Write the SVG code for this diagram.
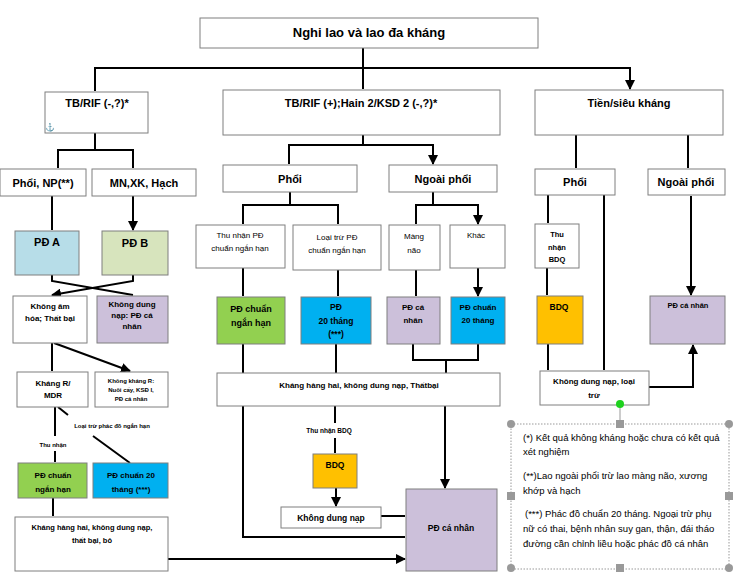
<svg xmlns="http://www.w3.org/2000/svg" width="746" height="573" viewBox="0 0 746 573">
<defs>
<marker id="ah" viewBox="0 0 10 10" refX="9" refY="5" markerWidth="5" markerHeight="5" orient="auto"><path d="M0,0L10,5L0,10z" fill="#000"/></marker>
<style>
.b{fill:#fff;stroke:#7f7f7f;stroke-width:1}
.g{fill:#92d050;stroke:#7f7f7f}
.bl{fill:#00b0f0;stroke:#7f7f7f}
.p{fill:#ccc0da;stroke:#7f7f7f}
.o{fill:#ffc000;stroke:#7f7f7f}
.la{fill:#b7dde8;stroke:#7f7f7f}
.lg{fill:#d7e4bd;stroke:#7f7f7f}
text{font-family:"Liberation Sans",Arial,sans-serif;font-weight:bold;text-anchor:middle;fill:#000}
.t13{font-size:13px}.t11{font-size:11px}.t10{font-size:10px}.t8{font-size:7px}
.c{fill:none;stroke:#000;stroke-width:2}
.a{marker-end:url(#ah)}
.n{font-weight:normal;text-anchor:start;font-size:9.5px}
</style>
</defs>
<rect width="746" height="573" fill="#fff"/>
<g id="connectors">
<path class="c" d="M363,48V68M95,68H630"/>
<path class="c a" d="M95,67V91M363,67V89M630,67V89"/>
<path class="c" d="M95,133V150M58,150H133"/>
<path class="c a" d="M58,149V168M133,149V168M52,196V230M133,196V230"/>
<path class="c a" d="M52,275V281L133,295M133,275V281L52,295"/>
<path class="c a" d="M52,343V371M54,343L130,371"/>
<path class="c" d="M55,407V436M58,407L68,415"/>
<path class="c a" d="M55,451V462M93,436L130,463M53,498V516M168,559H405"/>
<path class="c" d="M363,135V145M289,145H433"/>
<path class="c a" d="M289,144V164M433,144V164"/>
<path class="c" d="M290,192V205M243,205H338M433,192V205M416,205H478"/>
<path class="c a" d="M243,204V224M338,204V224M416,204V224M478,204V224"/>
<path class="c a" d="M243,268V296M338,270V296M416,270V296M478,268V296"/>
<path class="c" d="M243,344V373M336,344V373M413,344V360H478V344M446,360V373"/>
<path class="c a" d="M243,406V537H405M381,516H405M445,406V488"/>
<path class="c" d="M335,406V423"/>
<path class="c a" d="M335,438V453M336,488V506"/>
<path class="c a" d="M576,135V168M688,135V168M548,195V223M547,268V295M548,344V370M604,195V370M691,196V295"/>
<path class="c a" d="M649,387H693V345"/>
</g>
<g id="n-root"><rect class="b" x="200" y="18" width="338" height="30"/><text class="t13" x="369" y="37">Nghi lao và lao đa kháng</text></g>
<g id="n-rifneg"><rect class="b" x="45" y="92" width="103" height="41"/><text class="t11" x="97" y="107">TB/RIF (-,?)*</text><text x="50" y="130" style="font-size:8px;fill:#4472c4;font-weight:normal">⚓</text></g>
<g id="n-rifpos"><rect class="b" x="223" y="90" width="277" height="45"/><text class="t11" x="361" y="107">TB/RIF (+);Hain 2/KSD 2 (-,?)*</text></g>
<g id="n-tien"><rect class="b" x="535" y="90" width="188" height="45"/><text class="t11" x="629" y="107">Tiền/siêu kháng</text></g>
<g id="n-phoinp"><rect class="b" x="0" y="169" width="86" height="27"/><text class="t11" x="43" y="187">Phổi, NP(**)</text></g>
<g id="n-mnxk"><rect class="b" x="92" y="169" width="104" height="27"/><text class="t11" x="144" y="187">MN,XK, Hạch</text></g>
<g id="n-pda"><rect class="la" x="15" y="231" width="64" height="44"/><text class="t11" x="47" y="246">PĐ A</text></g>
<g id="n-pdb"><rect class="lg" x="102" y="231" width="66" height="44"/><text class="t11" x="135" y="247">PĐ B</text></g>
<g id="n-kam"><rect class="b" x="13" y="296" width="74" height="47"/><text class="t8" x="50" y="309" style="font-size:8px">Không âm</text><text x="50" y="321" style="font-size:8px">hóa; Thất bại</text></g>
<g id="n-kdn1"><rect class="p" x="97" y="296" width="71" height="47"/><text x="132" y="307" style="font-size:8px">Không dung</text><text x="132" y="318" style="font-size:8px">nạp: PĐ cá</text><text x="132" y="329" style="font-size:8px">nhân</text></g>
<g id="n-khangr"><rect class="b" x="17" y="372" width="71" height="35"/><text x="53" y="386" style="font-size:8px">Kháng R/</text><text x="53" y="398" style="font-size:8px">MDR</text></g>
<g id="n-kkr"><rect class="b" x="95" y="372" width="73" height="35"/><text x="131" y="383" style="font-size:6px">Không kháng R:</text><text x="131" y="392" style="font-size:6px">Nuôi cấy, KSĐ I,</text><text x="131" y="401" style="font-size:6px">PĐ cá nhân</text></g>
<text x="112" y="428" style="font-size:6px">Loại trừ phác đồ ngắn hạn</text>
<text x="53" y="447" style="font-size:6px">Thu nhận</text>
<g id="n-pdnh1"><rect class="g" x="18" y="463" width="69" height="35"/><text x="53" y="478" style="font-size:8px">PĐ chuẩn</text><text x="53" y="492" style="font-size:8px">ngắn hạn</text></g>
<g id="n-pd20a"><rect class="bl" x="93" y="463" width="75" height="35"/><text x="131" y="478" style="font-size:8px">PĐ chuẩn 20</text><text x="131" y="492" style="font-size:8px">tháng (***)</text></g>
<g id="n-khh1"><rect class="b" x="15" y="517" width="153" height="54"/><text x="92" y="530" style="font-size:7.5px">Kháng hàng hai, không dung nạp,</text><text x="92" y="543" style="font-size:7.5px">thất bại, bỏ</text></g>
<g id="n-phoi2"><rect class="b" x="223" y="165" width="134" height="27"/><text class="t11" x="290" y="183">Phổi</text></g>
<g id="n-ngoai2"><rect class="b" x="389" y="165" width="108" height="27"/><text class="t11" x="443" y="183">Ngoài phổi</text></g>
<g id="n-thunhan"><rect class="b" x="196" y="225" width="89" height="43"/><text x="240" y="238" style="font-size:8px;font-weight:normal">Thu nhận PĐ</text><text x="240" y="251" style="font-size:8px;font-weight:normal">chuẩn ngắn hạn</text></g>
<g id="n-loaitru"><rect class="b" x="293" y="225" width="88" height="45"/><text x="337" y="240" style="font-size:8px;font-weight:normal">Loại trừ PĐ</text><text x="337" y="253" style="font-size:8px;font-weight:normal">chuẩn ngắn hạn</text></g>
<g id="n-mangnao"><rect class="b" x="389" y="225" width="51" height="45"/><text x="414" y="239" style="font-size:8px;font-weight:normal">Màng</text><text x="414" y="253" style="font-size:8px;font-weight:normal">não</text></g>
<g id="n-khac"><rect class="b" x="450" y="225" width="55" height="43"/><text x="476" y="238" style="font-size:8px;font-weight:normal">Khác</text></g>
<g id="n-pdnh2"><rect class="g" x="217" y="297" width="68" height="47"/><text x="251" y="312" style="font-size:9px">PĐ chuẩn</text><text x="251" y="326" style="font-size:9px">ngắn hạn</text></g>
<g id="n-pd20b"><rect class="bl" x="301" y="297" width="70" height="47"/><text x="336" y="310" style="font-size:8.5px">PĐ</text><text x="336" y="324" style="font-size:8.5px">20 tháng</text><text x="336" y="337" style="font-size:8.5px">(***)</text></g>
<g id="n-pdcn1"><rect class="p" x="387" y="297" width="53" height="47"/><text x="413" y="310" style="font-size:8px">PĐ cá</text><text x="413" y="323" style="font-size:8px">nhân</text></g>
<g id="n-pd20c"><rect class="bl" x="451" y="297" width="54" height="47"/><text x="478" y="310" style="font-size:8px">PĐ chuẩn</text><text x="478" y="323" style="font-size:8px">20 tháng</text></g>
<g id="n-khh2"><rect class="b" x="217" y="373" width="283" height="33"/><text x="359" y="388" style="font-size:8px">Kháng hàng hai, không dung nạp, Thấtbại</text></g>
<text x="329" y="433" style="font-size:6.5px">Thu nhận BDQ</text>
<g id="n-bdq1"><rect class="o" x="313" y="454" width="44" height="34"/><text x="335" y="468" style="font-size:8.5px">BDQ</text></g>
<g id="n-kdn2"><rect class="b" x="281" y="507" width="100" height="21"/><text x="331" y="521" style="font-size:8.5px">Không dung nạp</text></g>
<g id="n-pdcn2"><rect class="p" x="406" y="489" width="91" height="82"/><text x="451" y="531" style="font-size:8.5px">PĐ cá nhân</text></g>
<g id="n-phoi3"><rect class="b" x="535" y="169" width="80" height="26"/><text class="t11" x="575" y="186">Phổi</text></g>
<g id="n-ngoai3"><rect class="b" x="648" y="169" width="77" height="26"/><text class="t11" x="686" y="186">Ngoài phổi</text></g>
<g id="n-tnbdq"><rect class="b" x="535" y="224" width="44" height="44"/><text x="557" y="237" style="font-size:7.5px">Thu</text><text x="557" y="250" style="font-size:7.5px">nhận</text><text x="557" y="262" style="font-size:7.5px">BDQ</text></g>
<g id="n-bdq2"><rect class="o" x="537" y="296" width="46" height="48"/><text x="559" y="310" style="font-size:8.5px">BDQ</text></g>
<g id="n-pdcn3"><rect class="p" x="650" y="296" width="75" height="48"/><text x="688" y="308" style="font-size:7.5px">PĐ cá nhân</text></g>
<g id="n-kdn3"><rect class="b" x="540" y="371" width="109" height="34"/><text x="594" y="384" style="font-size:8px">Không dung nạp, loại</text><text x="594" y="398" style="font-size:8px">trừ</text></g>
<g id="notes">
<line x1="620" y1="404" x2="620" y2="424" stroke="#999"/>
<circle cx="620" cy="404" r="4" fill="#1ed21e"/>
<rect x="511" y="424" width="218" height="145" fill="none" stroke="#999" stroke-dasharray="1.5,1.5"/>
<g fill="#999"><circle cx="511" cy="424" r="4"/><circle cx="729" cy="424" r="4"/><circle cx="511" cy="568" r="4"/><circle cx="729" cy="568" r="4"/>
<rect x="616" y="420" width="8" height="8"/><rect x="616" y="564" width="8" height="8"/><rect x="507" y="492" width="8" height="8"/><rect x="725" y="492" width="8" height="8"/></g>
<text class="n" x="523" y="441">(*) Kết quả không kháng hoặc chưa có kết quả</text>
<text class="n" x="523" y="455">xét nghiệm</text>
<text class="n" x="523" y="479">(**)Lao ngoài phổi trừ lao màng não, xương</text>
<text class="n" x="523" y="494">khớp và hạch</text>
<text class="n" x="525" y="517"> (***) Phác đồ chuẩn 20 tháng. Ngoại trừ phụ</text>
<text class="n" x="523" y="532">nữ có thai, bệnh nhân suy gan, thận, đái tháo</text>
<text class="n" x="523" y="547">đường cần chỉnh liều hoặc phác đồ cá nhân</text>
</g>
</svg>
